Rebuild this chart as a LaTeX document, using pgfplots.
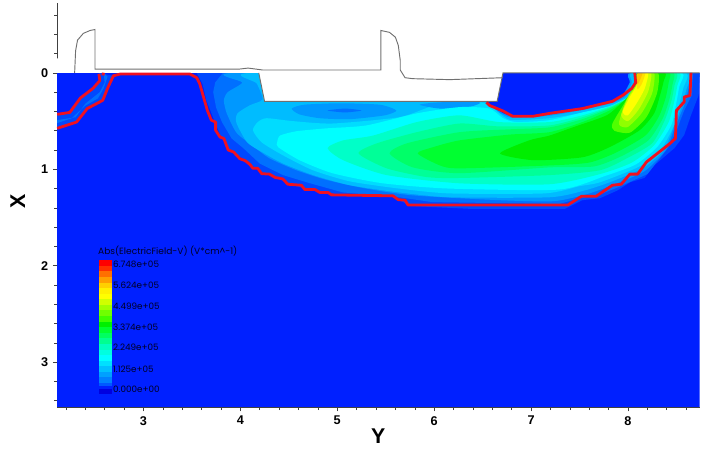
\documentclass[border=0pt]{standalone}
\usepackage{fontspec}
\setmainfont{Liberation Sans}
\newfontfamily\legfont{Poppins}
\usepackage{pgfplots}
\pgfplotsset{compat=1.18}
\definecolor{bgblue}{HTML}{0020FF}
\definecolor{dkblue}{HTML}{0000E0}
\definecolor{lva}{HTML}{0048FF}
\definecolor{lvb}{HTML}{0070FF}
\definecolor{lvc}{HTML}{0098FF}
\definecolor{lvd}{HTML}{00BCFF}
\definecolor{lve}{HTML}{00DCFF}
\definecolor{lvf}{HTML}{00FFFF}
\definecolor{lvg}{HTML}{00FFC8}
\definecolor{lvh}{HTML}{00FF98}
\definecolor{lvi}{HTML}{00FF68}
\definecolor{lvj}{HTML}{00FF30}
\definecolor{lvk}{HTML}{00EE00}
\definecolor{lvl}{HTML}{50FF00}
\definecolor{lvm}{HTML}{90FF00}
\definecolor{lvn}{HTML}{C8FF00}
\definecolor{lvo}{HTML}{FFFF00}
\definecolor{lvp}{HTML}{FFE000}
\definecolor{lvq}{HTML}{FFC000}
\definecolor{redl}{HTML}{F01020}
\definecolor{gline}{HTML}{707070}
% legend bands, top to bottom
\definecolor{ka}{HTML}{FF0000}
\definecolor{kb}{HTML}{FF3000}
\definecolor{kc}{HTML}{FF7000}
\definecolor{kd}{HTML}{FFA000}
\definecolor{ke}{HTML}{FFD000}
\definecolor{kf}{HTML}{FFF000}
\definecolor{kg}{HTML}{FFFF00}
\definecolor{kh}{HTML}{D0FF00}
\definecolor{ki}{HTML}{A0FF00}
\definecolor{kj}{HTML}{70FF00}
\definecolor{kk}{HTML}{40FF00}
\definecolor{kl}{HTML}{00F000}
\definecolor{km}{HTML}{00FF30}
\definecolor{kn}{HTML}{00FF60}
\definecolor{ko}{HTML}{00FF90}
\definecolor{kp}{HTML}{00FFC0}
\definecolor{kq}{HTML}{00FFE0}
\definecolor{kr}{HTML}{00FFFF}
\definecolor{ks}{HTML}{00E0FF}
\definecolor{kt}{HTML}{00C0FF}
\definecolor{ku}{HTML}{00A0FF}
\definecolor{kv}{HTML}{0080FF}
\definecolor{kw}{HTML}{0058FF}
\pgfplotsset{fl/.style={draw=none,fill=#1,mark=none,forget plot},
  fs/.style={fl=#1,smooth cycle,tension=0.4},
  rl/.style={draw=redl,line width=2.1pt,line join=round,mark=none,forget plot},
  gl/.style={draw=gline,line width=0.7pt,mark=none,forget plot}}
\newcommand\cb[3]{\addplot[fl=#1] coordinates {(2.54,#2)(2.675,#2)(2.675,#3)(2.54,#3)};}
\newcommand\lab[2]{\node[anchor=west,inner sep=0pt,font=\legfont\fontsize{6.6}{7}\selectfont,text=black!85!blue] at (axis cs:2.685,#1) {#2};}
\begin{document}
\begin{tikzpicture}
\path[use as bounding box] (0,0) rectangle (540pt,342pt);
\begin{axis}[
    at={(42.75pt,36.4pt)},
    scale only axis,
    width=482pt,
    height=303pt,
    xmin=2.108, xmax=8.74,
    ymin=-0.72, ymax=3.47,
    y dir=reverse,
    axis x line*=bottom,
    axis y line*=left,
    axis line style={draw=black!75,line width=0.6pt,-},
    tick align=outside,
    tick style={draw=black!75,line width=0.4pt},
    major tick length=3pt,
    minor tick length=2pt,
    xtick={3,4,5,6,7,8},
    ytick={0,1,2,3},
    minor xtick={2.2,2.4,2.6,2.8,3.2,3.4,3.6,3.8,4.2,4.4,4.6,4.8,5.2,5.4,5.6,5.8,6.2,6.4,6.6,6.8,7.2,7.4,7.6,7.8,8.2,8.4,8.6},
    minor ytick={-0.6,-0.4,-0.2,0.2,0.4,0.6,0.8,1.2,1.4,1.6,1.8,2.2,2.4,2.6,2.8,3.2,3.4},
    /pgf/number format/assume math mode=true,
    tick label style={font=\bfseries\fontsize{9.5}{12}\selectfont},
    xlabel={Y},
    ylabel={X},
    label style={font=\bfseries\fontsize{16}{18}\selectfont},
    xlabel style={at={(axis description cs:0.5,-0.07)},anchor=center},
    ylabel style={at={(axis description cs:-0.061,0.51)},anchor=center,rotate=0},
]
% silicon background
\addplot[fl=bgblue] coordinates {(2.108,0)(8.74,0)(8.74,3.47)(2.108,3.47)};

% left junction band
\addplot[fl=lva] coordinates {(2.11,0.43)(2.24,0.41)(2.35,0.26)(2.48,0.16)(2.55,0.08)(2.54,0)(2.69,0.03)(2.63,0.16)(2.58,0.285)(2.42,0.37)(2.31,0.51)(2.11,0.575)};
\addplot[fl=lvb] coordinates {(2.11,0.49)(2.30,0.46)(2.40,0.32)(2.55,0.20)(2.60,0.10)(2.59,0)(2.63,0.04)(2.59,0.16)(2.53,0.265)(2.40,0.34)(2.26,0.47)(2.11,0.52)};

% field contours, outer to inner
\addplot[fl=lva] coordinates {(3.55,0)(3.61,.115)(3.65,.285)(3.71,.44)(3.76,.565)(3.81,.68)(3.89,.80)(4.02,.885)(4.12,.96)(4.22,1.03)(4.36,1.08)(4.51,1.155)(4.67,1.20)(4.82,1.23)(4.97,1.26)(5.59,1.29)(5.75,1.38)(6.37,1.41)(7.35,1.41)(7.53,1.32)(7.71,1.30)(7.89,1.22)(8.02,1.135)(8.17,1.09)(8.27,.96)(8.48,.78)(8.58,.645)(8.65,.44)(8.73,.23)(8.74,0)
 (8.03,0)(8.02,.10)(7.95,.23)(7.84,.295)(7.53,.37)(7.19,.43)(6.81,.45)(6.71,.42)(6.54,.305)(6.4,0)};
\addplot[fl=lvb] coordinates {(3.82,0)(3.74,.10)(3.72,.20)(3.75,.36)(3.81,.51)(3.91,.68)(4.03,.78)(4.20,.94)(4.44,1.06)(4.72,1.145)(5.06,1.24)(5.64,1.29)(5.98,1.34)(7.29,1.36)(7.50,1.30)(7.71,1.26)(7.89,1.19)(8.20,1.05)(8.42,.77)(8.50,.60)(8.58,.39)(8.66,.23)(8.67,0)
 (8.03,0)(8.02,.10)(7.95,.23)(7.84,.295)(7.53,.37)(7.19,.43)(6.81,.45)(6.71,.42)(6.54,.305)(6.4,0)};
\addplot[fs=lvc] coordinates {(3.92,0)(4.02,.10)(3.87,.20)(3.83,.285)(3.86,.42)(3.96,.62)(4.12,.75)(4.30,.885)(4.58,1.01)(4.89,1.11)(5.30,1.20)(5.78,1.27)(6.67,1.32)(7.24,1.33)(7.60,1.25)(7.86,1.155)(8.17,1.02)(8.39,.80)(8.48,.575)(8.58,.335)(8.62,.18)(8.64,0)
 (8.03,0)(8.02,.10)(7.95,.23)(7.84,.295)(7.53,.37)(7.19,.43)(6.81,.45)(6.71,.42)(6.54,.305)(6.4,0)};
\addplot[fs=lvd] coordinates {(4.10,0)(4.17,.11)(4.23,.275)(4.10,.335)(3.97,.42)(3.96,.52)(4.07,.72)(4.22,.82)(4.44,.94)(4.75,1.06)(5.13,1.165)(5.64,1.24)(6.16,1.29)(7.19,1.29)(7.55,1.22)(7.81,1.135)(8.15,.99)(8.37,.80)(8.47,.565)(8.56,.335)(8.60,.18)(8.62,0)
 (8.05,0)(8.04,.10)(7.98,.24)(7.85,.31)(7.53,.385)(7.19,.445)(6.81,.465)(6.71,.435)(6.54,.32)(6.4,0)};
\addplot[fs=lve] coordinates {(4.13,.595)(4.18,.51)(4.27,.47)(4.54,.50)(4.95,.525)(5.64,.46)(5.98,.345)(6.28,.305)(6.54,.315)(6.71,.45)(6.81,.49)(7.19,.47)(7.55,.41)(7.86,.335)(7.98,.275)(8.09,.20)(8.13,.12)(8.13,0)(8.60,0)(8.57,.16)(8.53,.325)(8.47,.555)(8.34,.79)(8.12,.97)(7.71,1.135)(7.50,1.175)(7.14,1.25)(6.16,1.25)(5.64,1.20)(5.13,1.125)(4.75,1.01)(4.44,.855)(4.22,.72)};
\addplot[fs=lvc] coordinates {(4.53,.37)(4.66,.33)(5.03,.315)(5.44,.33)(5.61,.39)(5.49,.44)(5.13,.48)(4.82,.47)(4.61,.43)};
\addplot[fs=lvb] coordinates {(4.90,.39)(5.08,.37)(5.25,.39)(5.08,.41)};
\addplot[fs=lvc] coordinates {(5.85,.33)(6.06,.305)(6.47,.305)(6.37,.35)(6.06,.37)};
\addplot[fs=lvf] coordinates {(4.38,.72)(4.41,.65)(4.58,.605)(4.89,.575)(5.30,.545)(5.82,.42)(6.26,.355)(6.57,.37)(6.71,.47)(6.85,.51)(7.19,.49)(7.53,.41)(7.81,.345)(7.96,.275)(8.09,.21)(8.15,.12)(8.15,0)(8.56,0)(8.53,.14)(8.50,.305)(8.45,.535)(8.30,.77)(8.08,.95)(7.76,1.07)(7.29,1.21)(6.16,1.20)(5.47,1.145)(4.95,1.04)(4.61,.905)(4.39,.77)};
\addplot[fs=lvg] coordinates {(4.90,.78)(5.06,.70)(5.37,.65)(5.82,.51)(6.26,.44)(6.67,.51)(7.19,.51)(7.53,.44)(7.81,.35)(7.96,.28)(8.09,.22)(8.17,.13)(8.17,0)(8.53,0)(8.51,.13)(8.48,.285)(8.42,.51)(8.27,.75)(8.04,.93)(7.71,1.05)(7.19,1.155)(6.26,1.145)(5.51,1.06)(5.06,.905)};
\addplot[fs=lvh] coordinates {(5.22,.835)(5.41,.73)(5.82,.615)(6.26,.525)(6.67,.555)(7.19,.545)(7.53,.46)(7.81,.36)(7.96,.285)(8.09,.235)(8.18,.14)(8.19,0)(8.50,0)(8.48,.13)(8.45,.285)(8.38,.49)(8.25,.73)(7.99,.885)(7.71,1.01)(7.19,1.06)(6.26,1.09)(5.92,1.08)(5.51,.99)};
\addplot[fs=lvi] coordinates {(5.54,.835)(5.72,.73)(6.26,.615)(6.78,.585)(7.19,.565)(7.53,.48)(7.81,.37)(7.96,.29)(8.09,.245)(8.20,.15)(8.21,0)(8.47,0)(8.46,.12)(8.43,.265)(8.36,.47)(8.21,.70)(7.93,.865)(7.65,.97)(7.19,.98)(6.26,1.04)(5.78,.98)};
\addplot[fs=lvj] coordinates {(5.83,.835)(5.99,.77)(6.26,.70)(6.78,.64)(7.19,.615)(7.53,.51)(7.81,.39)(7.96,.295)(8.09,.255)(8.21,.16)(8.22,0)(8.43,0)(8.42,.10)(8.39,.255)(8.32,.45)(8.18,.65)(7.88,.825)(7.60,.93)(7.19,.96)(6.26,.99)(6.06,.96)};
\addplot[fs=lvk] coordinates {(6.68,.835)(6.98,.70)(7.19,.65)(7.43,.565)(7.78,.44)(7.94,.305)(8.07,.18)(8.10,.08)(8.10,0)(8.38,0)(8.37,.08)(8.33,.235)(8.27,.42)(8.12,.595)(7.81,.77)(7.53,.875)(7.02,.905)};
\addplot[fs=lvl] coordinates {(7.84,.525)(7.98,.285)(8.07,.11)(8.10,0)(8.31,0)(8.30,.21)(8.19,.46)(8.02,.62)(7.86,.60)};
\addplot[fs=lvm] coordinates {(7.91,.50)(7.99,.265)(8.08,.12)(8.11,0)(8.27,0)(8.25,.21)(8.14,.42)(8.00,.56)(7.92,.55)};
\addplot[fs=lvn] coordinates {(7.93,.44)(8.00,.26)(8.09,.13)(8.12,0)(8.24,0)(8.21,.19)(8.11,.38)(8.00,.50)};
\addplot[fs=lvo] coordinates {(7.95,.39)(8.02,.25)(8.09,.13)(8.12,0)(8.21,0)(8.17,.17)(8.08,.33)(8.00,.44)(7.96,.43)};
\addplot[fs=lvp] coordinates {(8.09,.12)(8.11,0)(8.18,0)(8.14,.12)(8.10,.17)};
\addplot[fs=lvq] coordinates {(8.09,.08)(8.10,0)(8.15,0)(8.13,.06)(8.10,.12)};

% etched trench and surface above zero
\addplot[fl=white] coordinates {(2.108,-0.15)(8.74,-0.15)(8.74,0)(6.71,0)(6.65,.295)(4.25,.295)(4.19,0)(2.108,0)};

% device outline
\addplot[gl] coordinates {(2.29,0)(2.30,-.23)(2.32,-.34)(2.38,-.41)(2.45,-.44)(2.50,-.45)(2.50,-.04)(3.995,-.04)(4.08,-.05)(4.23,-.03)(5.45,-.03)(5.45,-.44)(5.54,-.42)(5.60,-.37)(5.63,-.285)(5.65,-.13)(5.65,-.03)(5.70,.05)(5.78,.06)(6.16,.07)(6.71,.05)};
\addplot[gl] coordinates {(4.19,0)(4.25,.295)(6.65,.295)(6.71,0)(8.74,0)};

% red junction lines
\addplot[rl] coordinates {(2.11,0.43)(2.24,0.41)(2.35,0.26)(2.48,0.16)(2.55,0.08)(2.54,0.01)};
\addplot[rl] coordinates {(2.57,.01)(2.60,.015)};
\addplot[rl] coordinates {(2.11,0.575)(2.31,0.51)(2.42,0.37)(2.58,0.285)(2.63,0.16)(2.69,0.03)(2.76,.012)(3.48,.012)(3.55,.05)(3.58,.11)(3.63,.285)(3.66,.39)(3.70,.49)(3.745,.51)(3.745,.595)(3.79,.665)(3.83,.68)(3.875,.80)(3.93,.82)(3.995,.89)(4.05,.91)(4.10,.95)(4.13,.99)(4.18,.99)(4.22,1.045)(4.30,1.05)(4.36,1.085)(4.44,1.10)(4.49,1.155)(4.63,1.165)(4.665,1.21)(4.77,1.21)(4.82,1.24)(4.905,1.24)(4.94,1.265)(5.575,1.275)(5.63,1.315)(5.70,1.32)(5.73,1.37)(7.38,1.37)(7.52,1.28)(7.67,1.28)(7.84,1.165)(7.93,1.155)(8.02,1.05)(8.10,1.05)(8.19,.925)(8.43,.735)(8.49,.68)(8.50,.39)(8.58,.30)(8.58,.25)(8.64,.235)(8.65,0)};
\addplot[rl] coordinates {(8.07,0)(8.08,.10)(8.04,.16)(7.95,.23)(7.84,.295)(7.53,.37)(7.19,.42)(7.02,.45)(6.81,.45)(6.71,.395)(6.57,.337)(6.54,.305)};

% colour legend
\cb{ka}{1.943}{2.001}
\cb{kb}{2.001}{2.059}
\cb{kc}{2.059}{2.117}
\cb{kd}{2.117}{2.175}
\cb{ke}{2.175}{2.232}
\cb{kf}{2.232}{2.290}
\cb{kg}{2.290}{2.348}
\cb{kh}{2.348}{2.406}
\cb{ki}{2.406}{2.464}
\cb{kj}{2.464}{2.522}
\cb{kk}{2.522}{2.580}
\cb{kl}{2.580}{2.638}
\cb{km}{2.638}{2.695}
\cb{kn}{2.695}{2.753}
\cb{ko}{2.753}{2.811}
\cb{kp}{2.811}{2.869}
\cb{kq}{2.869}{2.927}
\cb{kr}{2.927}{2.985}
\cb{ks}{2.985}{3.043}
\cb{kt}{3.043}{3.101}
\cb{ku}{3.101}{3.158}
\cb{kv}{3.158}{3.216}
\cb{kw}{3.216}{3.250}
\cb{dkblue}{3.274}{3.332}
\node[anchor=west,inner sep=0pt,font=\legfont\fontsize{6.8}{7}\selectfont,text=black!85!blue] at (axis cs:2.53,1.85) {Abs(ElectricField-V) (V*cm\^{}-1)};
\lab{1.985}{6.748e+05}
\lab{2.20}{5.624e+05}
\lab{2.42}{4.499e+05}
\lab{2.64}{3.374e+05}
\lab{2.845}{2.249e+05}
\lab{3.07}{1.125e+05}
\lab{3.28}{0.000e+00}
\end{axis}
\end{tikzpicture}
\end{document}
